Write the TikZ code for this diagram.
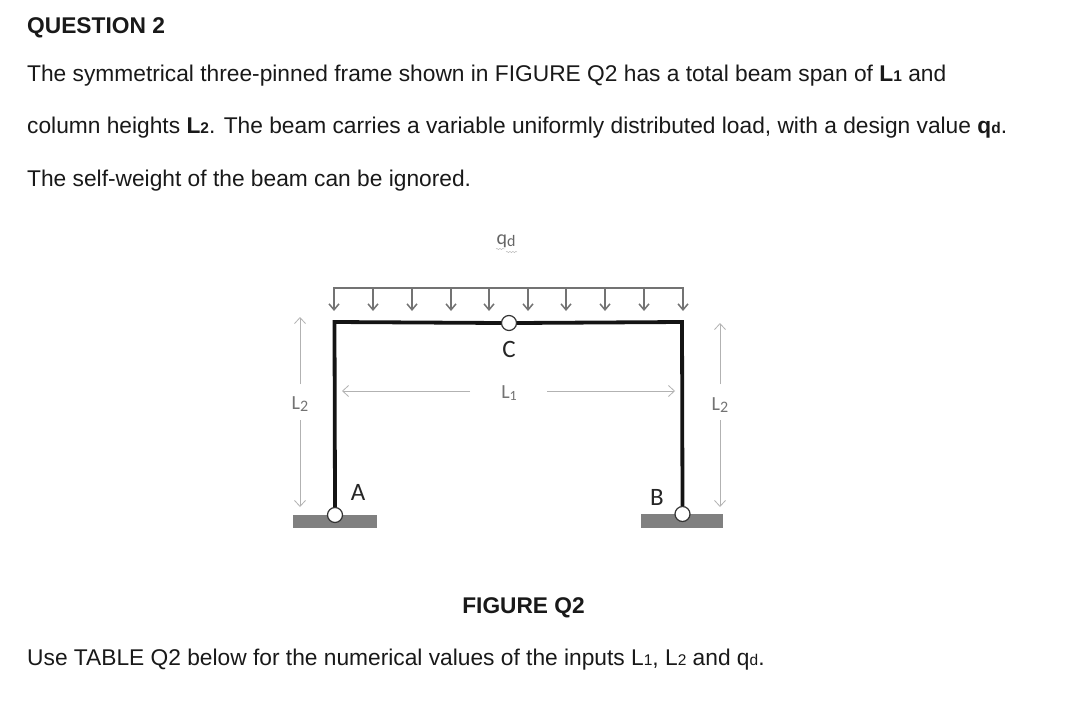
\documentclass[tikz,border=0pt]{standalone}
\usepackage{fontspec}
\setmainfont{Liberation Sans}
\newfontfamily\figfont{Carlito}
\usetikzlibrary{arrows.meta,decorations.pathmorphing}
\newcommand{\subn}[1]{{\fontsize{15.5}{15.5}\selectfont #1}}
\tikzset{
  x=1pt,y=-1pt,
  txt/.style={anchor=base west,inner sep=0pt,font=\fontsize{22.75}{26}\selectfont,text=black!90},
  fig/.style={inner sep=0pt,font=\figfont\fontsize{25}{26}\selectfont,text=black!85},
  dim/.style={inner sep=0pt,font=\figfont\fontsize{20}{22}\selectfont,text=black!55},
  frame/.style={line width=3.8pt,black!92,line join=miter},
  load/.style={line width=1.6pt,black!55},
  loadarrow/.style={load,-{Straight Barb[length=6pt,width=10pt,line width=1.5pt]}},
  dimarrow/.style={line width=1pt,black!30,-{Straight Barb[length=6pt,width=11pt,line width=0.8pt]}},
  pin/.style={circle,draw=black!80,fill=white,line width=1.2pt,minimum size=15pt,inner sep=0pt},
  ground/.style={fill=black!50,draw=none},
}
\begin{document}
\begin{tikzpicture}
\useasboundingbox[fill=white] (0,0) rectangle (1071,706);
% text
\node[txt,font=\bfseries\fontsize{22.75}{26}\selectfont] (t0) at (27,34) {QUESTION 2};
\node[txt] (t1) at (27,82) {The symmetrical three-pinned frame shown in FIGURE Q2 has a total beam span of \textbf{L\subn{1}} and};
\node[txt] (t2) at (27,134) {column heights \textbf{L\subn{2}}. The beam carries a variable uniformly distributed load, with a design value \textbf{q\subn{d}}.};
\node[txt] (t3) at (27,186) {The self-weight of the beam can be ignored.};
\node[txt,font=\bfseries\fontsize{22.7}{26}\selectfont,anchor=base] (cap) at (523.5,613) {FIGURE Q2};
\node[txt] (t4) at (27,665) {Use TABLE Q2 below for the numerical values of the inputs L\subn{1}, L\subn{2} and q\subn{d}.};
% ground
\fill[ground] (293,515) rectangle (377,528);
\fill[ground] (641,514) rectangle (723,528);
% frame
\coordinate (TL) at (334.5,322);
\coordinate (TR) at (682,322);
\node[pin] (A) at (335,515) {};
\node[pin] (B) at (682.5,514) {};
\node[pin] (C) at (509,323) {};
\draw[frame] (A.north) -- (TL) -- (C.west);
\draw[frame] (C.east) -- (TR) -- (B.north);
% load
\coordinate (LL) at (334,288);
\coordinate (LR) at (683,288);
\draw[load,line cap=rect] (LL) -- (LR);
\foreach \x in {334,373,412,451,489,528,566,605,644,683}{
  \coordinate (lt) at (\x,288);
  \coordinate (lb) at (\x,311);
  \draw[loadarrow] (lt) -- (lb);
}
% labels
\node[fig] (la) at (358,492) {A};
\node[fig] (lb2) at (657,497) {B};
\node[fig] (lc) at (509,349) {C};
\node[dim,text=black!60] (q) at (506,241) {q\raisebox{-2pt}{\fontsize{16}{16}\selectfont d}};
\draw[black!30,line width=0.4pt,decorate,decoration={snake,amplitude=0.6pt,segment length=3pt}] (496,249) -- (505,249);
\draw[black!30,line width=0.4pt,decorate,decoration={snake,amplitude=0.6pt,segment length=3pt}] (506,252) -- (517,252);
\node[dim] (L1) at (509,393) {L\raisebox{-2pt}{\fontsize{14}{14}\selectfont 1}};
\node[dim] (L2a) at (300,404) {L\raisebox{-2pt}{\fontsize{16}{16}\selectfont 2}};
\node[dim] (L2b) at (720,405) {L\raisebox{-2pt}{\fontsize{16}{16}\selectfont 2}};
% dimensions
\coordinate (L1l) at (342,391);
\coordinate (L1r) at (675,391);
\coordinate (L1a) at (470,391);
\coordinate (L1b) at (547,391);
\draw[dimarrow] (L1a) -- (L1l);
\draw[dimarrow] (L1b) -- (L1r);
\coordinate (a1) at (300,384);
\coordinate (a2) at (300,317);
\coordinate (a3) at (300,420);
\coordinate (a4) at (300,507);
\draw[dimarrow] (a1) -- (a2);
\draw[dimarrow] (a3) -- (a4);
\coordinate (b1) at (720,384);
\coordinate (b2) at (720,323);
\coordinate (b3) at (720,420);
\coordinate (b4) at (720,507);
\draw[dimarrow] (b1) -- (b2);
\draw[dimarrow] (b3) -- (b4);
\end{tikzpicture}
\end{document}
